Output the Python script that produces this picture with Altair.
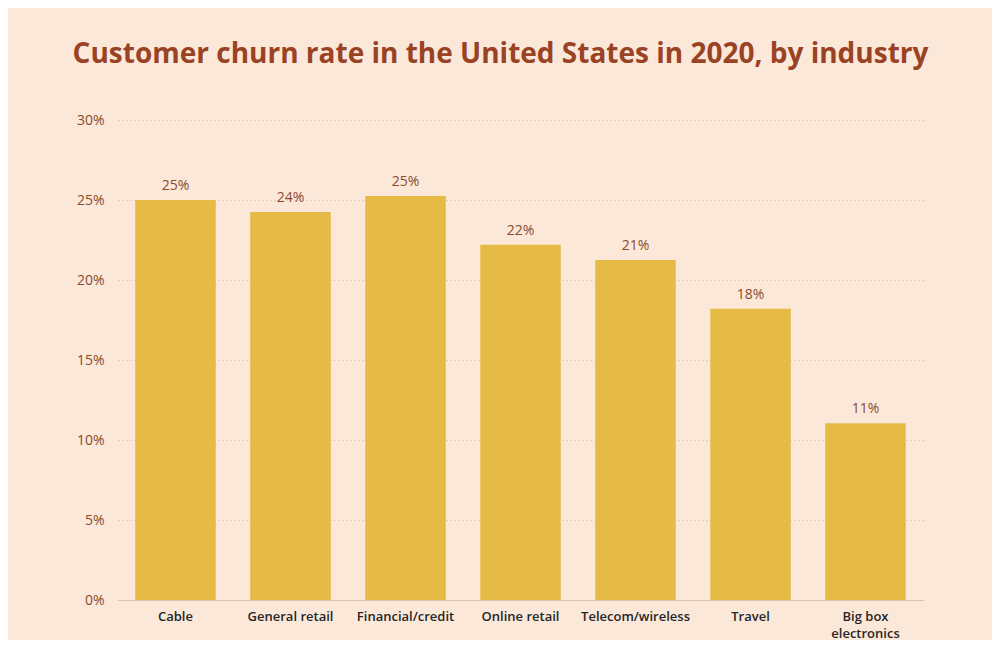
import altair as alt
import pandas as pd

industries = ["Cable", "General retail", "Financial/credit", "Online retail",
              "Telecom/wireless", "Travel", "Big box|electronics"]
rates = [25.0, 24.25, 25.25, 22.2, 21.25, 18.2, 11.05]
labels = ["25%", "24%", "25%", "22%", "21%", "18%", "11%"]

df = pd.DataFrame({"industry": industries, "rate": rates, "label": labels})

BG = "#fce8d9"
BAR = "#e5bb45"
BROWN = "#9a4324"
AXBROWN = "#8a4a2c"
FONT = "Open Sans"

x = alt.X("industry:N", sort=industries, title=None,
          scale=alt.Scale(paddingInner=0.3, paddingOuter=0.15),
          axis=alt.Axis(labelAngle=0, labelFont=FONT, labelFontSize=13,
                        labelFontWeight=600, labelColor="#262626",
                        labelPadding=10, ticks=False, domainColor="#d6c2b2",
                        labelExpr="split(datum.value, '|')", labelLineHeight=17))
y = alt.Y("rate:Q", title=None,
          scale=alt.Scale(domain=[0, 30]),
          axis=alt.Axis(values=[0, 5, 10, 15, 20, 25, 30],
                        labelExpr="datum.value + '%'", labelFont=FONT,
                        labelFontSize=14, labelColor=AXBROWN, labelPadding=14,
                        ticks=False, domain=False, gridColor="#cdb4a0",
                        gridDash=[1, 3], gridWidth=1))

bars = alt.Chart(df).mark_bar(color=BAR).encode(x=x, y=y)
text = alt.Chart(df).mark_text(dy=-14, font=FONT, fontSize=14, fontWeight=500,
                               color=AXBROWN).encode(x=x, y=y, text="label:N")

chart = (bars + text).properties(
    width=805, height=480,
    background=BG,
    padding={"left": 110, "top": 112, "right": 69, "bottom": 40},
    autosize=alt.AutoSizeParams(type="none"),
    title=alt.TitleParams("Customer churn rate in the United States in 2020, by industry",
                          font=FONT, fontSize=28, fontWeight=700, color=BROWN,
                          anchor="middle", dx=-20, offset=44),
).configure_view(stroke=None).configure_axisX(grid=False)

chart.save("out.html", embed_options={"renderer": "svg", "actions": False})
